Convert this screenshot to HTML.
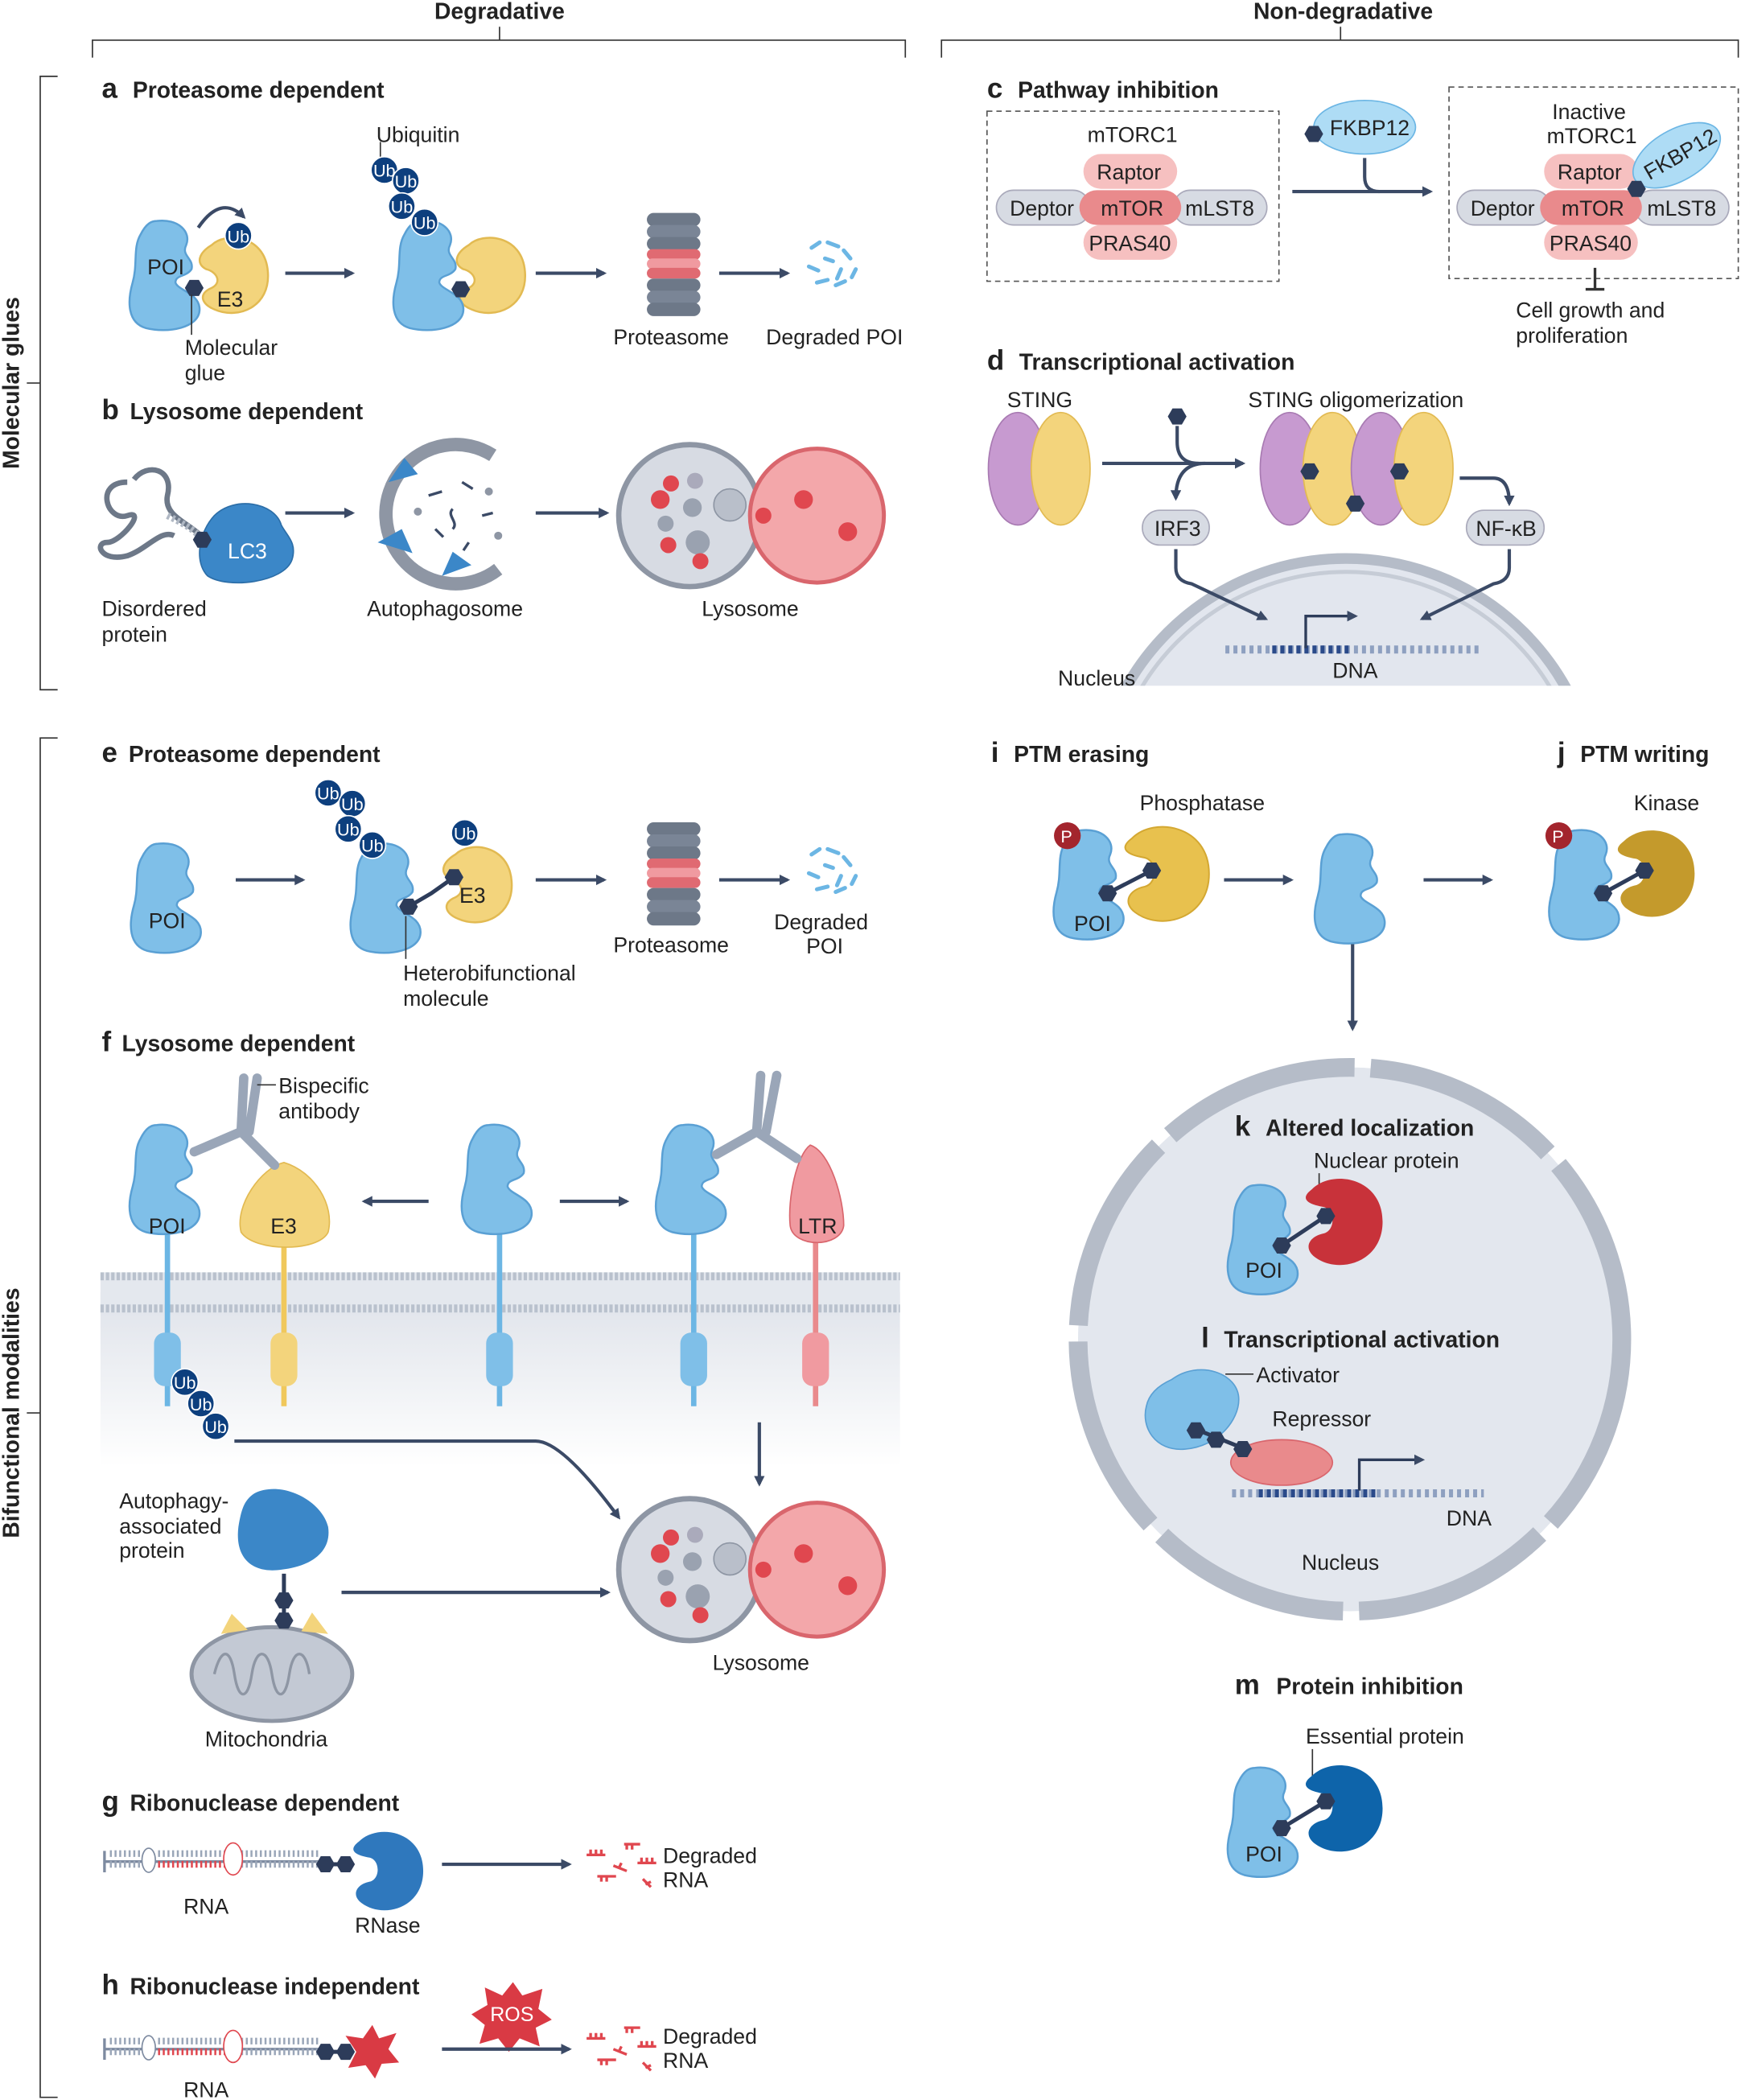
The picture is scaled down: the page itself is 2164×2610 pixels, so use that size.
<!DOCTYPE html>
<html><head><meta charset="utf-8"><style>
html,body{margin:0;padding:0;background:#fff}
svg{display:block}
text{font-family:"Liberation Sans",sans-serif;fill:#222}
.t{font-size:16px}
.h{font-size:17px;font-weight:bold}
.L{font-size:21px;font-weight:bold}
.w{fill:#fff;font-size:13px}
</style></head><body>
<svg width="2164" height="2610" viewBox="0 0 1300 1568" xmlns="http://www.w3.org/2000/svg">
<defs>
<marker id="ar" markerWidth="8" markerHeight="8" refX="6" refY="4" orient="auto" markerUnits="userSpaceOnUse"><path d="M0,0 L8,4 L0,8 Z" fill="#3b4a66"/></marker>
<g id="poi"><path d="M-8,-40 C8,-42 18,-32 14,-22 C10,-14 20,-12 18,-4 C14,2 6,0 6,6 C8,12 24,14 24,26 C24,40 0,44 -16,40 C-30,36 -30,20 -26,6 C-22,-8 -26,-20 -20,-30 C-16,-38 -12,-40 -8,-40 Z" fill="#7fbfe8" stroke="#5aa0d4" stroke-width="1.5"/></g>
<g id="e3"><path d="M-10,-22 C0,-32 30,-30 32,-2 C34,24 10,34 -8,26 C-18,22 -20,14 -10,10 C-2,6 -6,-2 -14,-4 C-22,-8 -20,-16 -10,-22 Z" fill="#f3d47c" stroke="#e2ba52" stroke-width="1.5"/></g>
<g id="pac"><path d="M-14,-20 C0,-34 34,-28 34,2 C34,30 4,38 -12,26 C-20,20 -16,12 -6,10 C2,8 2,-6 -6,-8 C-18,-10 -22,-14 -14,-20 Z"/></g>
<polygon id="hx" points="7,0 3.5,6 -3.5,6 -7,0 -3.5,-6 3.5,-6" fill="#2d3c5a"/>
<g id="ub"><circle r="10" fill="#0d3f7e" stroke="#fff" stroke-width="1"/><text class="w" x="0" y="5" text-anchor="middle">Ub</text></g>
<g id="prot">
<rect x="-20" y="-38" width="40" height="10" rx="5" fill="#6d7888"/><rect x="-20" y="-29" width="40" height="10" rx="5" fill="#7a8596"/>
<rect x="-20" y="-20" width="40" height="10" rx="5" fill="#6d7888"/><rect x="-20" y="-11" width="40" height="8" rx="4" fill="#e06a72"/>
<rect x="-20" y="-4" width="40" height="8" rx="4" fill="#f09aa0"/><rect x="-20" y="3" width="40" height="8" rx="4" fill="#e06a72"/>
<rect x="-20" y="11" width="40" height="10" rx="5" fill="#6d7888"/><rect x="-20" y="20" width="40" height="10" rx="5" fill="#7a8596"/>
<rect x="-20" y="29" width="40" height="10" rx="5" fill="#6d7888"/></g>
<g id="deg" stroke="#6cb6e4" stroke-width="3" stroke-linecap="round" fill="none">
<path d="M-14,-12 l6,-4"/><path d="M-2,-16 l8,3"/><path d="M10,-10 l5,6"/><path d="M-16,2 l7,3"/><path d="M-4,-4 l6,2"/><path d="M8,4 l-3,7"/><path d="M-10,14 l8,-2"/><path d="M4,16 l7,-3"/><path d="M16,10 l3,-6"/></g>
<g id="lyso"><circle cx="0" cy="0" r="53" fill="#d7dbe3" stroke="#8e96a4" stroke-width="4"/><circle cx="95" cy="0" r="50" fill="#f3a7aa" stroke="#d9666d" stroke-width="3"/>
<circle cx="-22" cy="-12" r="7" fill="#e0474f"/><circle cx="-14" cy="-24" r="6" fill="#e0474f"/><circle cx="4" cy="-26" r="6" fill="#aab" /><circle cx="-18" cy="6" r="6" fill="#9aa2b0"/><circle cx="2" cy="-6" r="7" fill="#9aa2b0"/><circle cx="6" cy="20" r="9" fill="#9aa2b0"/><circle cx="-16" cy="22" r="6" fill="#e0474f"/><circle cx="8" cy="34" r="6" fill="#e0474f"/><circle cx="30" cy="-8" r="12" fill="#b9bfca" stroke="#8e96a4"/><circle cx="55" cy="0" r="6" fill="#e0474f"/><circle cx="85" cy="-12" r="7" fill="#e0474f"/><circle cx="118" cy="12" r="7" fill="#e0474f"/></g>
<g id="rna"><line x1="0" y1="0" x2="165" y2="0" stroke="#7d8aa0" stroke-width="2"/><line x1="0" y1="-8" x2="0" y2="8" stroke="#7d8aa0" stroke-width="2"/>
<path d="M4,-6 h24 M40,-6 h50 M102,-6 h58" stroke="#9aa6b8" stroke-width="5" stroke-dasharray="1.5 2"/><path d="M40,2 h50" stroke="#e0474f" stroke-width="5" stroke-dasharray="1.5 2"/><path d="M4,2 h24 M102,2 h58" stroke="#9aa6b8" stroke-width="5" stroke-dasharray="1.5 2"/>
<ellipse cx="33" cy="-1" rx="5" ry="9" fill="#fff" stroke="#7d8aa0"/><ellipse cx="96" cy="-2" rx="7" ry="12" fill="#fff" stroke="#e0474f"/></g>
<g id="drna" stroke="#e0474f" stroke-width="2" fill="none"><path d="M0,0 h14 M3,0 v-4 M7,0 v-4 M11,0 v-4"/><path d="M28,-8 h12 M30,-8 v4 M34,-8 v4"/><path d="M20,8 l10,4 M24,10 l2,-4"/><path d="M38,6 h14 M41,6 v-4 M45,6 v-4 M49,6 v-4"/><path d="M8,16 h14 M11,16 v4 M15,16 v4"/><path d="M42,18 l6,6 M44,22 l4,-2"/></g>
</defs>
<rect width="1300" height="1568" fill="#fff"/>

<!-- top brackets -->
<text class="h" x="373" y="14" text-anchor="middle">Degradative</text>
<path d="M69,43 V30 H676 V43 M373,30 V20" fill="none" stroke="#333" stroke-width="1"/>
<text class="h" x="1003" y="14" text-anchor="middle">Non-degradative</text>
<path d="M703,43 V30 H1298 V43 M1001,30 V20" fill="none" stroke="#333" stroke-width="1"/>
<path d="M43,57 H30 V515 H43 M30,286 H20" fill="none" stroke="#333"/>
<text class="h" transform="translate(14,286) rotate(-90)" text-anchor="middle">Molecular glues</text>
<path d="M43,551 H30 V1566 H43 M30,1055 H20" fill="none" stroke="#333"/>
<text class="h" transform="translate(14,1055) rotate(-90)" text-anchor="middle">Bifunctional modalities</text>

<path d="M1019,118 V132 Q1019,143 1030,143" stroke="#3b4a66" stroke-width="2.5" fill="none"/>
<path d="M879,318 V330 Q879,346 895,346" stroke="#3b4a66" stroke-width="2.5" fill="none"/>

<!-- panel a -->
<text class="L" x="76" y="73">a</text><text class="h" x="99" y="73">Proteasome dependent</text>
<use href="#e3" x="168" y="205"/><use href="#poi" x="125" y="205"/><use href="#hx" x="145" y="215"/><use href="#ub" x="178" y="176"/>
<line x1="143" y1="220" x2="143" y2="250" stroke="#333"/>
<text class="t" x="110" y="205">POI</text><text class="t" x="162" y="229">E3</text>
<text class="t" x="138" y="265">Molecular</text><text class="t" x="138" y="284">glue</text>
<use href="#e3" x="360" y="205"/><use href="#poi" x="322" y="205"/><use href="#hx" x="344" y="216"/>
<line x1="284" y1="106" x2="284" y2="122" stroke="#333"/>
<use href="#ub" x="287" y="127"/><use href="#ub" x="303" y="135"/><use href="#ub" x="300" y="154"/><use href="#ub" x="317" y="166"/>
<text class="t" x="281" y="106">Ubiquitin</text>
<use href="#prot" x="503" y="197"/><use href="#deg" x="620" y="197"/>
<text class="t" x="458" y="257">Proteasome</text><text class="t" x="572" y="257">Degraded POI</text>

<!-- panel b -->
<text class="L" x="76" y="313">b</text><text class="h" x="97" y="313">Lysosome dependent</text>
<path d="M95,360 C70,360 80,390 95,385 C110,380 90,405 80,405 C70,405 75,420 95,415 C110,410 120,395 130,400 M100,358 C110,345 130,350 125,370 C122,385 140,390 150,400" stroke="#6d7888" stroke-width="4" fill="none"/>
<path d="M125,385 C135,390 145,395 150,402" stroke="#b0b8c4" stroke-width="5" stroke-dasharray="2 2" fill="none"/>
<path d="M160,385 C175,370 205,375 210,392 C214,400 222,405 218,418 C212,435 170,440 155,430 C145,420 148,398 160,385 Z" fill="#3b87c8" stroke="#2c6ea8"/>
<use href="#hx" x="151" y="403"/><text class="t" x="170" y="417" style="fill:#fff">LC3</text>
<text class="t" x="76" y="460">Disordered</text><text class="t" x="76" y="479">protein</text>
<path d="M368,340 A52,52 0 1 0 372,425" fill="none" stroke="#8e96a4" stroke-width="10"/>
<path d="M290,360 l12,-18 l10,12 z M282,405 l18,-10 l8,18 z M330,430 l8,-18 l14,10 z" fill="#3b87c8"/>
<path d="M320,370 l10,-3 M345,360 l8,5 M360,385 l8,-2 M325,395 l6,6 M350,405 l-4,6 M338,380 c-5,5 5,10 0,15" stroke="#3b4a66" stroke-width="2" fill="none"/>
<circle cx="365" cy="367" r="3" fill="#8e96a4"/><circle cx="372" cy="400" r="3" fill="#8e96a4"/><circle cx="312" cy="382" r="3" fill="#8e96a4"/>
<text class="t" x="274" y="460">Autophagosome</text>
<use href="#lyso" x="515" y="385"/><text class="t" x="524" y="460">Lysosome</text>

<!-- panel c -->
<text class="L" x="737" y="73">c</text><text class="h" x="760" y="73">Pathway inhibition</text>
<rect x="737" y="83" width="218" height="127" fill="none" stroke="#555" stroke-dasharray="4 3"/>
<text class="t" x="812" y="106">mTORC1</text>
<rect x="744" y="142" width="70" height="26" rx="13" fill="#d7dbe3" stroke="#aab"/><rect x="876" y="142" width="70" height="26" rx="13" fill="#d7dbe3" stroke="#aab"/>
<rect x="809" y="115" width="70" height="26" rx="13" fill="#f6c0c0"/><rect x="809" y="168" width="70" height="26" rx="13" fill="#f6c0c0"/>
<rect x="806" y="142" width="76" height="26" rx="13" fill="#e98a8c"/>
<text x="754" y="161" class="t">Deptor</text><text x="822" y="161" class="t">mTOR</text><text x="885" y="161" class="t">mLST8</text><text x="819" y="134" class="t">Raptor</text><text x="813" y="187" class="t">PRAS40</text>
<ellipse cx="1019" cy="95" rx="38" ry="20" fill="#aedcf5" stroke="#6cb6e4"/><text class="t" x="993" y="101">FKBP12</text><use href="#hx" x="981" y="100"/>
<rect x="1082" y="65" width="216" height="143" fill="none" stroke="#555" stroke-dasharray="4 3"/>
<text class="t" x="1159" y="89">Inactive</text><text class="t" x="1155" y="107">mTORC1</text>
<rect x="1088" y="142" width="70" height="26" rx="13" fill="#d7dbe3" stroke="#aab"/><rect x="1221" y="142" width="70" height="26" rx="13" fill="#d7dbe3" stroke="#aab"/>
<rect x="1153" y="115" width="70" height="26" rx="13" fill="#f6c0c0"/><rect x="1153" y="168" width="70" height="26" rx="13" fill="#f6c0c0"/>
<rect x="1150" y="142" width="76" height="26" rx="13" fill="#e98a8c"/>
<text x="1098" y="161" class="t">Deptor</text><text x="1166" y="161" class="t">mTOR</text><text x="1230" y="161" class="t">mLST8</text><text x="1163" y="134" class="t">Raptor</text><text x="1157" y="187" class="t">PRAS40</text>
<g transform="translate(1252,116) rotate(-30)"><ellipse rx="36" ry="19" fill="#aedcf5" stroke="#6cb6e4"/><text class="t" x="-27" y="6">FKBP12</text></g>
<use href="#hx" x="1222" y="141"/>
<path d="M1191,200 V216 M1184,216 H1198" stroke="#333" stroke-width="2"/>
<text class="t" x="1132" y="237">Cell growth and</text><text class="t" x="1132" y="256">proliferation</text>

<!-- panel d -->
<text class="L" x="737" y="276">d</text><text class="h" x="761" y="276">Transcriptional activation</text>
<text class="t" x="752" y="304">STING</text><text class="t" x="932" y="304">STING oligomerization</text>
<ellipse cx="760" cy="350" rx="22" ry="42" fill="#c79ad0" stroke="#a87ab2"/><ellipse cx="792" cy="350" rx="22" ry="42" fill="#f3d47c" stroke="#e2ba52"/>
<use href="#hx" x="879" y="311"/>
<ellipse cx="963" cy="350" rx="22" ry="42" fill="#c79ad0" stroke="#a87ab2"/><ellipse cx="995" cy="350" rx="22" ry="42" fill="#f3d47c" stroke="#e2ba52"/>
<ellipse cx="1031" cy="350" rx="22" ry="42" fill="#c79ad0" stroke="#a87ab2"/><ellipse cx="1063" cy="350" rx="22" ry="42" fill="#f3d47c" stroke="#e2ba52"/>
<use href="#hx" x="978" y="352"/><use href="#hx" x="1012" y="376"/><use href="#hx" x="1045" y="352"/>
<rect x="853" y="381" width="50" height="26" rx="13" fill="#d7dbe3" stroke="#aab"/><text class="t" x="862" y="400">IRF3</text>
<rect x="1095" y="381" width="58" height="26" rx="13" fill="#d7dbe3" stroke="#aab"/><text class="t" x="1102" y="400">NF-κB</text>
<clipPath id="cd"><rect x="700" y="400" width="600" height="112"/></clipPath>
<g clip-path="url(#cd)"><circle cx="1005" cy="605" r="188" fill="#e2e6ee" stroke="#b5bcc8" stroke-width="8"/><circle cx="1005" cy="605" r="178" fill="none" stroke="#c6ccd6" stroke-width="3"/></g>
<path d="M915,485 h190" stroke="#8ea0c0" stroke-width="6" stroke-dasharray="3 3"/><path d="M950,485 h60" stroke="#2a4a8a" stroke-width="6" stroke-dasharray="3 3"/>
<path d="M975,484 V460 H1012" stroke="#2d3c5a" stroke-width="2" fill="none" marker-end="url(#ar)"/>
<text class="t" x="790" y="512">Nucleus</text><text class="t" x="995" y="506">DNA</text>

<!-- panel e -->
<text class="L" x="76" y="569">e</text><text class="h" x="96" y="569">Proteasome dependent</text>
<use href="#poi" x="126" y="670"/><text class="t" x="111" y="693">POI</text>
<use href="#e3" x="350" y="660"/><use href="#poi" x="290" y="670"/>
<path d="M305,677 L322,667 L339,655" stroke="#2d3c5a" stroke-width="3"/><use href="#hx" x="305" y="677"/><use href="#hx" x="339" y="655"/>
<use href="#ub" x="245" y="592"/><use href="#ub" x="263" y="600"/><use href="#ub" x="260" y="619"/><use href="#ub" x="278" y="631"/><use href="#ub" x="347" y="622"/>
<text class="t" x="343" y="674">E3</text>
<line x1="303" y1="684" x2="303" y2="716" stroke="#333"/>
<text class="t" x="301" y="732">Heterobifunctional</text><text class="t" x="301" y="751">molecule</text>
<use href="#prot" x="503" y="652"/><use href="#deg" x="620" y="650"/>
<text class="t" x="458" y="711">Proteasome</text><text class="t" x="578" y="694">Degraded</text><text class="t" x="602" y="712">POI</text>

<!-- panel f -->
<text class="L" x="76" y="785">f</text><text class="h" x="91" y="785">Lysosome dependent</text>
<linearGradient id="mg" x1="0" y1="0" x2="0" y2="1"><stop offset="0" stop-color="#dfe3ea"/><stop offset="1" stop-color="#fff"/></linearGradient>
<rect x="75" y="965" width="597" height="130" fill="url(#mg)"/>
<rect x="75" y="950" width="597" height="30" fill="#e4e8ee"/>
<path d="M75,953 H672 M75,977 H672" stroke="#b9c1cd" stroke-width="6" stroke-dasharray="2.5 1.5"/>
<g stroke-width="4">
<line x1="125" y1="910" x2="125" y2="1050" stroke="#6cb6e4"/><line x1="212" y1="925" x2="212" y2="1050" stroke="#f0c85c"/>
<line x1="373" y1="910" x2="373" y2="1050" stroke="#6cb6e4"/><line x1="518" y1="910" x2="518" y2="1050" stroke="#6cb6e4"/><line x1="609" y1="925" x2="609" y2="1050" stroke="#e98a8c"/></g>
<rect x="115" y="995" width="20" height="40" rx="8" fill="#7fbfe8"/><rect x="202" y="995" width="20" height="40" rx="8" fill="#f3d47c"/>
<rect x="363" y="995" width="20" height="40" rx="8" fill="#7fbfe8"/><rect x="508" y="995" width="20" height="40" rx="8" fill="#7fbfe8"/><rect x="599" y="995" width="20" height="40" rx="8" fill="#f09aa0"/>
<use href="#poi" x="125" y="880"/><use href="#poi" x="373" y="880"/><use href="#poi" x="518" y="880"/>
<path d="M212,868 C235,875 250,900 245,920 C238,935 190,935 180,920 C175,900 195,872 212,868 Z" fill="#f3d47c" stroke="#e2ba52"/>
<path d="M605,855 C620,860 630,895 630,915 C628,932 592,932 590,915 C588,895 595,862 605,855 Z" fill="#f09aa0" stroke="#d9666d"/>
<g stroke="#9aa6b8" stroke-width="7" stroke-linecap="round" fill="none">
<path d="M180,845 L182,805 M186,845 L192,805 M180,845 L145,860 M180,845 L205,870 M565,845 L568,803 M572,845 L580,803 M565,845 L535,862 M565,845 L595,865"/></g>
<text class="t" x="208" y="816">Bispecific</text><text class="t" x="208" y="835">antibody</text><line x1="192" y1="810" x2="206" y2="810" stroke="#333"/>
<text class="t" x="111" y="921">POI</text><text class="t" x="202" y="921">E3</text><text class="t" x="596" y="921">LTR</text>
<use href="#ub" x="138" y="1032"/><use href="#ub" x="150" y="1048"/><use href="#ub" x="161" y="1065"/>
<text class="t" x="89" y="1126">Autophagy-</text><text class="t" x="89" y="1145">associated</text><text class="t" x="89" y="1163">protein</text>
<ellipse cx="203" cy="1250" rx="60" ry="35" fill="#c3c9d4" stroke="#8e96a4" stroke-width="3"/>
<path d="M160,1250 c5,-20 12,-20 15,0 c3,20 10,20 13,0 c3,-20 12,-20 15,0 c3,20 10,20 13,0 c3,-20 12,-20 15,0" stroke="#8e96a4" stroke-width="2" fill="none"/>
<path d="M165,1220 l8,-15 l12,12z M225,1218 l8,-14 l12,16z" fill="#f3d47c"/>
<path d="M190,1115 C210,1105 240,1120 245,1140 C248,1160 230,1170 210,1172 C190,1175 175,1165 178,1140 C180,1128 182,1120 190,1115 Z" fill="#3b87c8"/>
<path d="M212,1175 L212,1210" stroke="#2d3c5a" stroke-width="3"/><use href="#hx" x="212" y="1195"/><use href="#hx" x="212" y="1210"/>
<text class="t" x="153" y="1304">Mitochondria</text>
<use href="#lyso" x="515" y="1172"/><text class="t" x="532" y="1247">Lysosome</text>

<!-- g -->
<text class="L" x="76" y="1352">g</text><text class="h" x="97" y="1352">Ribonuclease dependent</text>
<use href="#rna" x="78" y="1390"/><path d="M243,1392 H262" stroke="#2d3c5a" stroke-width="3"/><use href="#hx" x="243" y="1392"/><use href="#hx" x="258" y="1392"/>
<use href="#pac" x="282" y="1395" fill="#2f78bd"/>
<text class="t" x="137" y="1429">RNA</text><text class="t" x="265" y="1443">RNase</text>
<use href="#drna" x="438" y="1385"/><text class="t" x="495" y="1391">Degraded</text><text class="t" x="495" y="1409">RNA</text>
<!-- h -->
<text class="L" x="76" y="1489">h</text><text class="h" x="97" y="1489">Ribonuclease independent</text>
<use href="#rna" x="78" y="1530"/><path d="M243,1532 H262" stroke="#2d3c5a" stroke-width="3"/><use href="#hx" x="243" y="1532"/><use href="#hx" x="258" y="1532"/>
<polygon points="278,1512 283,1522 296,1518 290,1530 298,1540 285,1541 280,1552 273,1542 260,1544 266,1532 258,1520 271,1522" fill="#d93a44"/>
<polygon points="383,1480 390,1490 405,1485 402,1500 412,1508 400,1514 403,1528 388,1522 380,1532 372,1522 358,1526 362,1512 352,1504 364,1497 362,1484 375,1490" fill="#d93a44"/>
<text x="366" y="1509" style="fill:#fff;font-size:15px">ROS</text>
<text class="t" x="137" y="1566">RNA</text>
<use href="#drna" x="438" y="1522"/><text class="t" x="495" y="1526">Degraded</text><text class="t" x="495" y="1544">RNA</text>

<!-- i, j -->
<text class="L" x="740" y="569">i</text><text class="h" x="757" y="569">PTM erasing</text>
<text class="L" x="1163" y="569">j</text><text class="h" x="1180" y="569">PTM writing</text>
<use href="#pac" x="862" y="650" fill="#e8c14e" stroke="#d4a832" transform="translate(862,650) scale(1.2) translate(-862,-650)"/>
<use href="#poi" x="815" y="660"/><path d="M827,667 L860,650" stroke="#2d3c5a" stroke-width="3"/><use href="#hx" x="827" y="667"/><use href="#hx" x="860" y="650"/>
<circle cx="797" cy="624" r="10" fill="#a3252d"/><text x="792" y="629" style="fill:#fff;font-size:13px">P</text>
<text class="t" x="851" y="605">Phosphatase</text><text class="t" x="802" y="695">POI</text>
<use href="#poi" x="1010" y="663"/>
<use href="#pac" x="1228" y="650" fill="#c49a2c" transform="translate(1228,650) scale(1.1) translate(-1228,-650)"/>
<use href="#poi" x="1185" y="660"/><path d="M1197,667 L1228,650" stroke="#2d3c5a" stroke-width="3"/><use href="#hx" x="1197" y="667"/><use href="#hx" x="1228" y="650"/>
<circle cx="1164" cy="624" r="10" fill="#a3252d"/><text x="1159" y="629" style="fill:#fff;font-size:13px">P</text>
<text class="t" x="1220" y="605">Kinase</text>

<!-- big nucleus -->
<circle cx="1008" cy="1000" r="203" fill="#e3e7ee"/>
<circle cx="1008" cy="1000" r="203" fill="none" stroke="#b5bcc8" stroke-width="14" stroke-dasharray="150 12"/>
<text class="L" x="922" y="848">k</text><text class="h" x="945" y="848">Altered localization</text>
<text class="t" x="981" y="872">Nuclear protein</text><line x1="985" y1="876" x2="985" y2="895" stroke="#333"/>
<use href="#pac" x="995" y="910" fill="#c8323a" transform="translate(995,910) scale(1.1) translate(-995,-910)"/>
<use href="#poi" x="945" y="925"/><path d="M957,930 L990,908" stroke="#2d3c5a" stroke-width="3"/><use href="#hx" x="957" y="930"/><use href="#hx" x="990" y="908"/>
<text class="t" x="930" y="954">POI</text>
<text class="L" x="897" y="1006">l</text><text class="h" x="914" y="1006">Transcriptional activation</text>
<path d="M875,1030 C895,1015 925,1025 925,1045 C925,1060 910,1080 885,1082 C862,1084 852,1065 856,1050 C858,1040 866,1034 875,1030 Z" fill="#7fbfe8" stroke="#5aa0d4"/>
<line x1="915" y1="1026" x2="936" y2="1026" stroke="#333"/><text class="t" x="938" y="1032">Activator</text>
<path d="M890,1066 L930,1082" stroke="#2d3c5a" stroke-width="3"/><use href="#hx" x="893" y="1068"/><use href="#hx" x="908" y="1075"/>
<path d="M920,1115 h188" stroke="#8ea0c0" stroke-width="6" stroke-dasharray="3 3"/><path d="M940,1115 h90" stroke="#2a4a8a" stroke-width="6" stroke-dasharray="3 3"/>
<ellipse cx="957" cy="1092" rx="38" ry="17" fill="#e98a8c" stroke="#d9666d"/><use href="#hx" x="928" y="1082"/>
<text class="t" x="950" y="1065">Repressor</text>
<path d="M1015,1113 V1090 H1062" stroke="#2d3c5a" stroke-width="2" fill="none" marker-end="url(#ar)"/>
<text class="t" x="1080" y="1139">DNA</text><text class="t" x="972" y="1172">Nucleus</text>

<!-- m -->
<text class="L" x="922" y="1265">m</text><text class="h" x="953" y="1265">Protein inhibition</text>
<text class="t" x="975" y="1302">Essential protein</text><line x1="980" y1="1306" x2="980" y2="1330" stroke="#333"/>
<use href="#pac" x="995" y="1348" fill="#0e64aa" transform="translate(995,1348) scale(1.1) translate(-995,-1348)"/>
<use href="#poi" x="945" y="1360"/><path d="M957,1365 L990,1345" stroke="#2d3c5a" stroke-width="3"/><use href="#hx" x="957" y="1365"/><use href="#hx" x="990" y="1345"/>
<text class="t" x="930" y="1390">POI</text>

<!-- arrows on top -->
<g stroke="#3b4a66" stroke-width="2.5" fill="none" marker-end="url(#ar)">
<line x1="213" y1="204" x2="263" y2="204"/><line x1="400" y1="204" x2="451" y2="204"/><line x1="537" y1="204" x2="588" y2="204"/>
<line x1="213" y1="383" x2="263" y2="383"/><line x1="400" y1="383" x2="453" y2="383"/>
<line x1="176" y1="657" x2="226" y2="657"/><line x1="400" y1="657" x2="451" y2="657"/><line x1="537" y1="657" x2="588" y2="657"/>
<line x1="320" y1="897" x2="272" y2="897"/><line x1="418" y1="897" x2="468" y2="897"/>
<path d="M175,1076 H400 Q420,1076 462,1133"/><line x1="567" y1="1062" x2="567" y2="1108"/><line x1="255" y1="1189" x2="454" y2="1189"/>
<line x1="330" y1="1392" x2="425" y2="1392"/><line x1="330" y1="1530" x2="425" y2="1530"/>
<line x1="914" y1="657" x2="964" y2="657"/><line x1="1063" y1="657" x2="1113" y2="657"/><line x1="1010" y1="705" x2="1010" y2="768"/>
<line x1="965" y1="143" x2="1068" y2="143"/>
<line x1="823" y1="346" x2="928" y2="346"/>
<path d="M900,346 Q878,346 878,372"/><path d="M1090,357 H1115 Q1127,357 1127,376"/>
<path d="M878,410 V424 Q878,434 890,436 L945,462"/><path d="M1127,410 V424 Q1127,434 1115,436 L1062,462"/>
<path d="M148,170 Q165,145 182,162" stroke-width="2.5"/>
</g>
</svg>
</body></html>
